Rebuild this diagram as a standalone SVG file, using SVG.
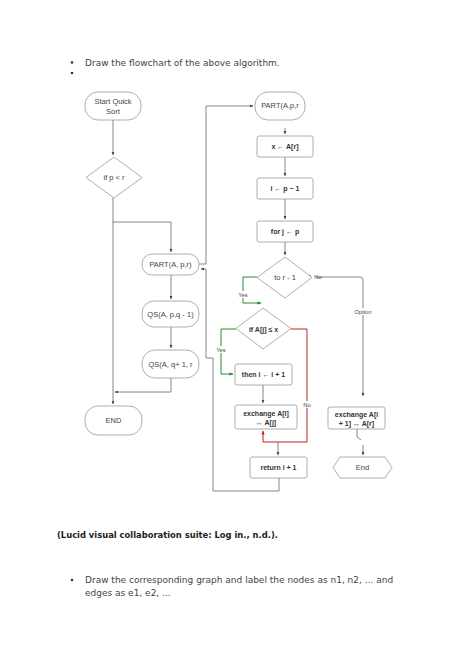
<svg xmlns="http://www.w3.org/2000/svg" width="474" height="669" viewBox="0 0 474 669">
<defs>
<marker id="ah" viewBox="0 0 10 10" refX="9" refY="5" markerWidth="4" markerHeight="4" orient="auto"><path d="M0,1 L10,5 L0,9 z" fill="#444"/></marker>
<marker id="ahg" viewBox="0 0 10 10" refX="9" refY="5" markerWidth="4" markerHeight="4" orient="auto"><path d="M0,1 L10,5 L0,9 z" fill="#2a8a2a"/></marker>
<marker id="ahr" viewBox="0 0 10 10" refX="9" refY="5" markerWidth="4" markerHeight="4" orient="auto"><path d="M0,1 L10,5 L0,9 z" fill="#c02020"/></marker>
</defs>
<style>
.doc{font-family:"DejaVu Sans",Verdana,sans-serif;font-size:9px;fill:#444}
.cite{font-family:"DejaVu Sans",Verdana,sans-serif;font-size:8.4px;font-weight:bold;fill:#222}
.shape{fill:#fff;stroke:#999;stroke-width:0.8}
.t{font-family:"Liberation Sans",Arial,sans-serif;font-size:7.5px;fill:#444;text-anchor:middle}
.tb{font-family:"Liberation Sans",Arial,sans-serif;font-size:7px;font-weight:bold;fill:#333;text-anchor:middle}
.lbl{font-family:"Liberation Sans",Arial,sans-serif;font-size:5.8px;fill:#444;text-anchor:middle}
.c{fill:none;stroke:#777;stroke-width:0.9}
.g{fill:none;stroke:#2a8a2a;stroke-width:1}
.r{fill:none;stroke:#c02020;stroke-width:1}
</style>
<rect width="474" height="669" fill="#fff"/>

<g id="text-top">
<circle cx="72" cy="62.5" r="1.3" fill="#333"/>
<text class="doc" x="85" y="65.5">Draw the flowchart of the above algorithm.</text>
<circle cx="72" cy="73" r="1.3" fill="#333"/>
</g>

<g id="connectors">
<path class="c" d="M113,120 V155" marker-end="url(#ah)"/>
<path class="c" d="M113,198 V404" marker-end="url(#ah)"/>
<path class="c" d="M113,222 H171 V252" marker-end="url(#ah)"/>
<path class="c" d="M171,275 V299" marker-end="url(#ah)"/>
<path class="c" d="M171,327 V348" marker-end="url(#ah)"/>
<path class="c" d="M171,378 V392 H115" marker-end="url(#ah)"/>
<path class="c" d="M199,264 H206 V106 H253" marker-end="url(#ah)"/>
<path class="c" d="M279,478 V491 H213 V358 H206 V269 H201" marker-end="url(#ah)"/>
<path class="c" d="M285,128 V134" marker-end="url(#ah)"/>
<path class="c" d="M285,157 V176" marker-end="url(#ah)"/>
<path class="c" d="M285,199 V219" marker-end="url(#ah)"/>
<path class="c" d="M285,242 V255" marker-end="url(#ah)"/>
<path class="c" d="M312,277 H360 Q363,277 363,280 V396" marker-end="url(#ah)"/>
<path class="g" d="M257,277 H243 V303 H261" marker-end="url(#ahg)"/>
<path class="g" d="M236,329 H221 V374 H233" marker-end="url(#ahg)"/>
<path class="r" d="M291,329 H307 V442 H263 V431" marker-end="url(#ahr)"/>
<path class="c" d="M263,385 V403" marker-end="url(#ah)"/>
<path class="c" d="M278,442 V455" marker-end="url(#ah)"/>
<path class="c" d="M357,429 V437 L361,440" />
<path class="c" d="M363,445 V455" marker-end="url(#ah)"/>
<rect x="307" y="273" width="9" height="8" fill="#fff"/>
<path d="M310,275 V279" stroke="#c02020" stroke-width="1.2"/>
<text class="lbl" x="318" y="279">No</text>
<rect x="350" y="308" width="26" height="7" fill="#fff"/>
<text class="lbl" x="363" y="314">Option</text>
<rect x="236" y="291" width="14" height="7" fill="#fff"/>
<text class="lbl" x="243" y="297">Yes</text>
<rect x="214" y="346" width="14" height="7" fill="#fff"/>
<text class="lbl" x="221" y="352">Yes</text>
<rect x="302" y="401" width="10" height="7" fill="#fff"/>
<text class="lbl" x="307" y="407">No</text>
</g>

<g id="start">
<rect class="shape" x="85" y="92" width="56" height="28" rx="13"/>
<text class="t" x="113" y="103.5">Start Quick</text>
<text class="t" x="113" y="113.5">Sort</text>
</g>
<g id="if-p-r">
<polygon class="shape" points="114,157 142,177.5 114,198 86,177.5"/>
<text class="t" x="114" y="180">if p &lt; r</text>
</g>
<g id="part-call">
<rect class="shape" x="142" y="254" width="57" height="21" rx="10"/>
<text class="t" x="170.5" y="267">PART(A, p,r)</text>
</g>
<g id="qs1">
<rect class="shape" x="142" y="301" width="57" height="26" rx="12"/>
<text class="t" x="170.5" y="316.5">QS(A, p,q - 1)</text>
</g>
<g id="qs2">
<rect class="shape" x="142" y="350" width="57" height="28" rx="13"/>
<text class="t" x="170.5" y="366.5">QS(A, q+ 1, r</text>
</g>
<g id="end1">
<rect class="shape" x="85" y="406" width="57" height="29" rx="13"/>
<text class="t" x="113.5" y="423">END</text>
</g>

<g id="part">
<rect class="shape" x="255" y="92" width="50" height="28" rx="13"/>
<text class="t" x="280" y="108">PART(A,p,r</text>
</g>
<g id="x-ar">
<rect class="shape" x="257" y="136" width="56" height="21" rx="2"/>
<text class="tb" x="285" y="149">x ← A[r]</text>
</g>
<g id="i-p">
<rect class="shape" x="257" y="178" width="56" height="21" rx="2"/>
<text class="tb" x="285" y="191">i ← p − 1</text>
</g>
<g id="for-j">
<rect class="shape" x="257" y="221" width="56" height="21" rx="2"/>
<text class="tb" x="285" y="234">for j ← p</text>
</g>
<g id="to-r">
<polygon class="shape" points="285,257 312,277.5 285,298 257,277.5"/>
<text class="t" x="285" y="280">to r - 1</text>
</g>
<g id="if-a">
<polygon class="shape" points="263,308 291,328.5 263,349 236,328.5"/>
<text class="tb" x="263.5" y="331.5">if A[j] ≤ x</text>
</g>
<g id="then">
<rect class="shape" x="235" y="364" width="57" height="21" rx="2"/>
<text class="tb" x="263.5" y="377">then i ← i + 1</text>
</g>
<g id="exch1">
<rect class="shape" x="235" y="405" width="62" height="24" rx="2"/>
<text class="tb" x="266" y="415.5">exchange A[i]</text>
<text class="tb" x="266" y="424.5">↔ A[j]</text>
</g>
<g id="return">
<rect class="shape" x="250" y="457" width="57" height="21" rx="2"/>
<text class="tb" x="278.5" y="470">return i + 1</text>
</g>
<g id="exch2">
<rect class="shape" x="328" y="407" width="57" height="22" rx="2"/>
<text class="tb" x="356.5" y="416.5">exchange A[i</text>
<text class="tb" x="356.5" y="425.5">+ 1] ↔ A[r]</text>
</g>
<g id="end2">
<polygon class="shape" points="340,457 385,457 392,467.5 385,478 340,478 333,467.5"/>
<text class="t" x="362.5" y="470">End</text>
</g>

<g id="text-bottom">
<text class="cite" x="57" y="538">(Lucid visual collaboration suite: Log in., n.d.).</text>
<circle cx="72" cy="580" r="1.3" fill="#333"/>
<text class="doc" x="85" y="583">Draw the corresponding graph and label the nodes as n1, n2, ... and</text>
<text class="doc" x="85" y="596">edges as e1, e2, ...</text>
</g>
</svg>
